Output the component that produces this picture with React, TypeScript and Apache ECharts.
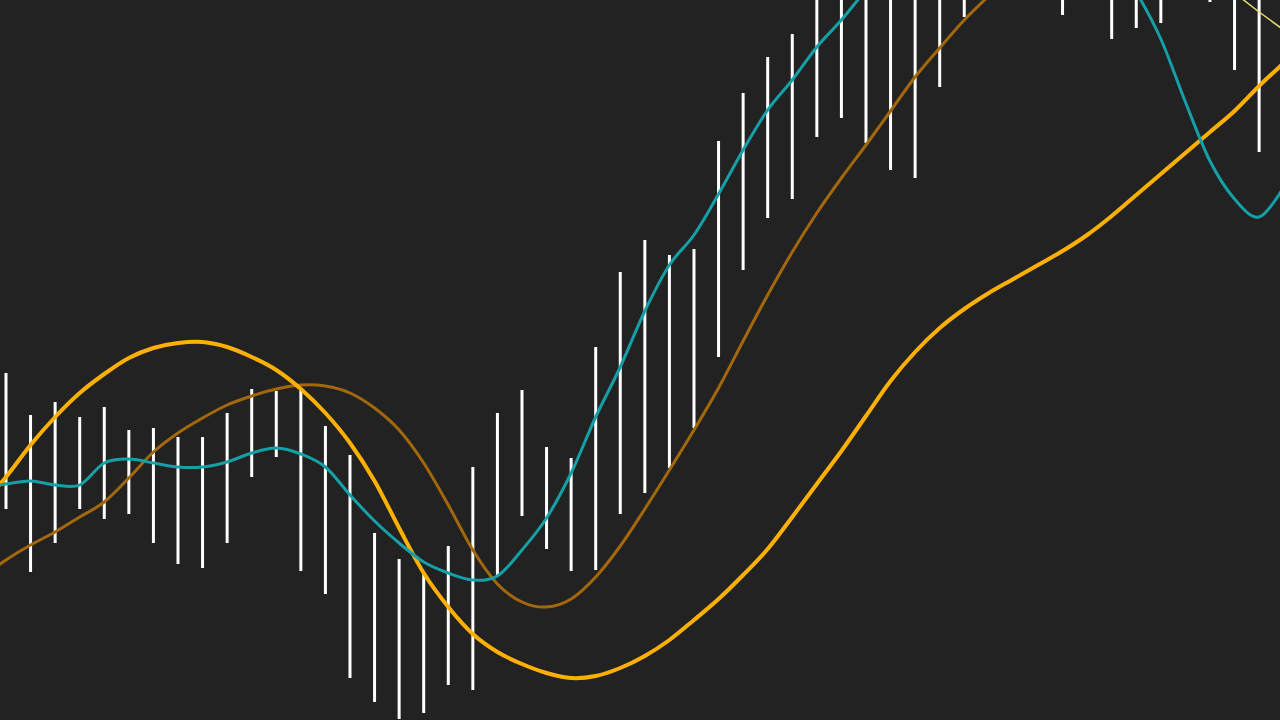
import React, { useEffect, useRef } from "react";
import * as echarts from "echarts";

// Bar index -> [high, low] (price units)
const barHigh = [347, 305, 318, 303, 313, 290, 292, 283, 283, 307, 331, 329, 331, 294, 265, 187, 161, 147, 174, 253, 307, 330, 273, 262, 373, 448, 480, 465, 471, 579, 627, 663, 686, 800, 820, 830, 780, 770, 840, 900, 920, 940, 950, 880, 900, 860, 870, 850, 870, 840, 810, 780];
const barLow = [211, 148, 177, 211, 201, 206, 177, 156, 152, 177, 243, 263, 149, 126, 42, 18, 1, 7, 35, 30, 144, 204, 171, 149, 150, 206, 227, 252, 292, 363, 450, 502, 521, 583, 602, 577, 550, 542, 633, 703, 780, 800, 760, 705, 740, 681, 692, 697, 730, 718, 650, 568];

// Moving averages, sampled from index -1 to 52
const maStart = -1;
const fastMA = [233, 236, 239, 235, 235, 257, 261, 257, 253, 253, 258, 267, 272, 266, 253, 225, 199, 177, 158, 147, 140, 144, 170, 202, 247, 303, 353, 409, 455, 485, 526, 570, 610, 640, 673, 700, 730, 758, 782, 800, 814, 824, 828, 826, 816, 796, 766, 728, 681, 618, 559, 521, 503, 532];
const midMA = [142, 160, 175, 188, 203, 218, 242, 268, 287, 302, 315, 324, 331, 335, 334, 327, 312, 290, 257, 215, 170, 136, 118, 113, 121, 143, 174, 211, 250, 290, 332, 379, 425, 468, 507, 542, 575, 609, 643, 672, 700, 724, 746, 768, 790, 812, 832, 850, 868, 885, 900, 915, 928, 940];
const slowMA = [215, 243, 275, 303, 327, 346, 362, 372, 377, 378, 373, 363, 350, 331, 307, 277, 239, 192, 147, 113, 86, 68, 56, 47, 42, 44, 52, 64, 80, 100, 121, 145, 171, 203, 236, 269, 304, 339, 368, 392, 411, 427, 441, 455, 469, 485, 504, 525, 546, 567, 588, 609, 634, 657];
const trendStart = 48;
const trendLine = [762, 744, 727, 708, 690];

const toPairs = (arr: number[], start: number) => arr.map((v, i) => [start + i, v]);

// Smooth curve (Catmull-Rom as cubic Bezier) through the series' points, positioned via the axes
const smoothSeries = (values: number[], start: number, color: string, width: number) => ({
  type: "custom",
  clip: true,
  data: [[start, values[0]]],
  encode: { x: 0, y: 1 },
  renderItem: (params: any, api: any) => {
    const pts = values.map((v, i) => api.coord([start + i, v]));
    let d = `M${pts[0][0]},${pts[0][1]}`;
    for (let i = 0; i < pts.length - 1; i++) {
      const p0 = pts[Math.max(i - 1, 0)];
      const p1 = pts[i];
      const p2 = pts[i + 1];
      const p3 = pts[Math.min(i + 2, pts.length - 1)];
      const c1x = p1[0] + (p2[0] - p0[0]) / 6;
      const c1y = p1[1] + (p2[1] - p0[1]) / 6;
      const c2x = p2[0] - (p3[0] - p1[0]) / 6;
      const c2y = p2[1] - (p3[1] - p1[1]) / 6;
      d += ` C${c1x},${c1y} ${c2x},${c2y} ${p2[0]},${p2[1]}`;
    }
    return {
      type: "path",
      shape: { pathData: d },
      style: { stroke: color, lineWidth: width, fill: "none", lineCap: "round", lineJoin: "round" },
    };
  },
});

export default function App() {
  const ref = useRef<HTMLDivElement>(null);
  useEffect(() => {
    if (!ref.current) return;
    const chart = echarts.init(ref.current, null, { renderer: "svg" });
    const bars = barHigh.map((h, i) => [i, h, barLow[i]]);
    chart.setOption({
      animation: false,
      backgroundColor: "#222222",
      grid: { left: 0, right: 0, top: 0, bottom: 0 },
      xAxis: {
        type: "value",
        min: -0.244,
        max: 51.85,
        show: false,
        splitLine: { show: false },
      },
      yAxis: {
        type: "value",
        min: 0,
        max: 720,
        show: false,
        splitLine: { show: false },
      },
      series: [
        {
          type: "custom",
          clip: true,
          data: bars,
          encode: { x: 0, y: [1, 2] },
          renderItem: (params: any, api: any) => {
            const x = api.value(0);
            const hi = api.coord([x, api.value(1)]);
            const lo = api.coord([x, api.value(2)]);
            return {
              type: "line",
              shape: { x1: hi[0], y1: hi[1], x2: lo[0], y2: lo[1] },
              style: { stroke: "#ffffff", lineWidth: 3 },
            };
          },
        },
        smoothSeries(midMA, maStart, "#a3680c", 3),
        smoothSeries(slowMA, maStart, "#ffb000", 4),
        smoothSeries(fastMA, maStart, "#14a0a6", 3),
        {
          type: "line",
          data: toPairs(trendLine, trendStart),
          smooth: false,
          symbol: "none",
          lineStyle: { color: "#e6dc72", width: 1.5 },
        },
      ],
    });
    return () => chart.dispose();
  }, []);
  return (
    <div
      ref={ref}
      style={{ position: "fixed", left: 0, top: 0, width: 1280, height: 720 }}
    />
  );
}
